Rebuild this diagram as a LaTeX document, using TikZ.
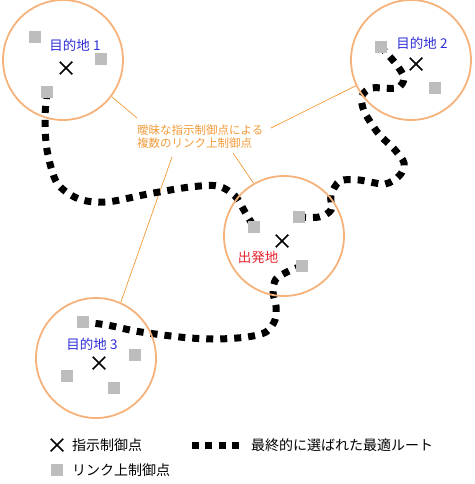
\documentclass[tikz,border=0pt]{standalone}
\usepackage{fontspec}
\setmainfont{Noto Sans CJK JP}
\usetikzlibrary{shapes.misc}
\pgfdeclarelayer{bg}
\pgfsetlayers{bg,main}
\definecolor{ringc}{HTML}{F5B27A}
\definecolor{notec}{HTML}{F19A38}
\definecolor{bluec}{HTML}{2E2ED8}
\definecolor{redc}{HTML}{E8232D}
\definecolor{sqc}{HTML}{BDBDBD}
\tikzset{
  ring/.style={circle, draw=ringc, line width=1.8pt, minimum size=120pt, inner sep=0pt},
  sqm/.style={rectangle, fill=sqc, minimum size=12pt, inner sep=0pt},
  xm/.style={cross out, draw=black, line width=1.5pt, minimum size=11pt, inner sep=0pt},
  route/.style={line width=7pt, dash pattern=on 7pt off 7pt, black},
  callout/.style={draw=notec, line width=0.7pt},
  dlabel/.style={font=\fontsize{13.5}{15}\selectfont, text=bluec, inner sep=0pt},
  legtext/.style={font=\fontsize{14}{16}\selectfont, anchor=west, inner sep=0pt}
}
\begin{document}
\begin{tikzpicture}[x=1pt,y=-1pt]
\useasboundingbox (0,0) rectangle (474,484);
% circles
\node[ring] (c1) at (63,60) {};
\node[ring] (c2) at (411,60) {};
\node[ring] (c3) at (284,236) {};
\node[ring] (c4) at (96,358) {};
% instructed control points
\node[xm] (x1) at (66,68) {};
\node[xm] (x2) at (416,64) {};
\node[xm] (x3) at (282,241) {};
\node[xm] (x4) at (99,363) {};
% labels
\node[dlabel] (l1) at (75,45) {目的地 1};
\node[dlabel] (l2) at (422,43) {目的地 2};
\node[dlabel, text=redc] (l3) at (258,257) {出発地};
\node[dlabel] (l4) at (92,344) {目的地 3};
% link control points
\node[sqm] (s1a) at (35,37) {};
\node[sqm] (s1b) at (101,59) {};
\node[sqm] (s1c) at (47,92) {};
\node[sqm] (s2a) at (381,47) {};
\node[sqm] (s2b) at (435,88) {};
\node[sqm] (s3a) at (254,227) {};
\node[sqm] (s3b) at (299,217) {};
\node[sqm] (s3c) at (302,266) {};
\node[sqm] (s4a) at (83,322) {};
\node[sqm] (s4b) at (135,355) {};
\node[sqm] (s4c) at (67,376) {};
\node[sqm] (s4d) at (114,388) {};
% note
\node[anchor=west, align=left, inner sep=0pt, text=notec,
      font=\fontsize{11.5}{13}\selectfont] (note) at (137,137)
  {曖昧な指示制御点による\\複数のリンク上制御点};
\coordinate (n1) at (137,118);
\coordinate (n2) at (271,128);
\coordinate (n3) at (172,157);
\coordinate (n4) at (233,153);
\begin{pgfonlayer}{bg}
\draw[callout] (n1) -- (c1.-37);
\draw[callout] (n2) -- (c2.205);
\draw[callout] (n4) -- (c3.120);
\draw[callout] (n3) -- (c4.66);
% routes
\draw[route] plot[smooth, tension=0.5] coordinates {(s1c.center) (45,118) (47,150) (57,183) (79,199) (107,202) (148,194) (190,187) (218,186) (235,196) (245,212) (s3a.center)};
\draw[route] plot[smooth, tension=0.5] coordinates {(s3b.center) (319,217) (331,210) (331,195) (340,181) (359,180) (385,184) (400,175) (404,163) (395,150) (378,133) (364,111) (362,96) (372,88) (397,88) (404,78) (396,64) (s2a.center)};
\draw[route] plot[smooth, tension=0.5] coordinates {(s3c.center) (289,271) (276,279) (273,292) (276,306) (275,320) (266,332) (247,337) (218,339) (190,338) (163,335) (135,331) (107,325) (s4a.center)};
\end{pgfonlayer}
% legend
\node[xm] (lx) at (57,445) {};
\node[legtext] (lxt) at (72,445) {指示制御点};
\node[sqm] (ls) at (57,470) {};
\node[legtext] (lst) at (72,470) {リンク上制御点};
\coordinate (lr1) at (191.5,445);
\coordinate (lr2) at (239,445);
\draw[route, dash pattern=on 7pt off 6.5pt] (lr1) -- (lr2);
\node[legtext] (lrt) at (251,445) {最終的に選ばれた最適ルート};
\end{tikzpicture}
\end{document}
